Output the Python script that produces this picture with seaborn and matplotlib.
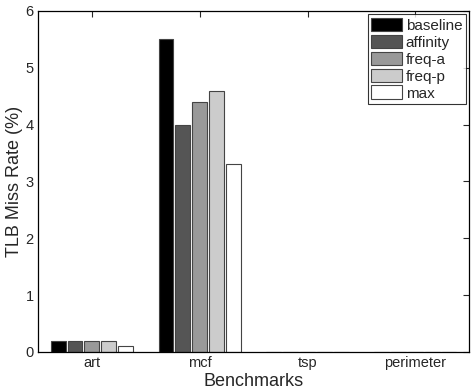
import matplotlib
matplotlib.use("Agg")
import matplotlib.pyplot as plt
import seaborn as sns
import pandas as pd

benchmarks = ["art", "mcf", "tsp", "perimeter"]
series = ["baseline", "affinity", "freq-a", "freq-p", "max"]
baseline = [0.2, 5.5, 0.0, 0.0]
affinity = [0.2, 4.0, 0.0, 0.0]
freq_a = [0.2, 4.4, 0.0, 0.0]
freq_p = [0.2, 4.6, 0.0, 0.0]
max_vals = [0.1, 3.3, 0.0, 0.0]
colors = ["#000000", "#555555", "#999999", "#cccccc", "#ffffff"]

rows = []
for name, vals in zip(series, [baseline, affinity, freq_a, freq_p, max_vals]):
    for b, v in zip(benchmarks, vals):
        rows.append({"benchmark": b, "policy": name, "rate": v})
df = pd.DataFrame(rows)

sns.set_style("white")
plt.rcParams["font.family"] = ["Liberation Sans", "DejaVu Sans"]

fig, ax = plt.subplots(figsize=(4.74, 3.91), dpi=100)
sns.barplot(data=df, x="benchmark", y="rate", hue="policy", hue_order=series,
            palette=colors, width=0.78, gap=0.12, edgecolor="#444444",
            linewidth=0.8, ax=ax)

ax.set_xlim(-0.5, 3.5)
ax.set_ylim(0, 6)
ax.set_yticks(range(0, 7))
ax.set_xlabel("Benchmarks", fontsize=13, labelpad=2)
ax.set_ylabel("TLB Miss Rate (%)", fontsize=13, labelpad=2)
ax.tick_params(direction="in", top=True, right=True, labelsize=10.5,
               length=4, width=0.8, pad=3)
for s in ax.spines.values():
    s.set_visible(True)
    s.set_color("black")
    s.set_linewidth(0.9)

leg = ax.legend(loc="upper right", fontsize=11, fancybox=False,
                frameon=True, edgecolor="black", handlelength=2.0,
                handleheight=1.0, handletextpad=0.25, labelspacing=0.12,
                borderpad=0.25, borderaxespad=0.2)
leg.get_frame().set_linewidth(0.8)

plt.subplots_adjust(left=0.08, right=0.99, top=0.972, bottom=0.1)
plt.savefig("out.png", dpi=100)
